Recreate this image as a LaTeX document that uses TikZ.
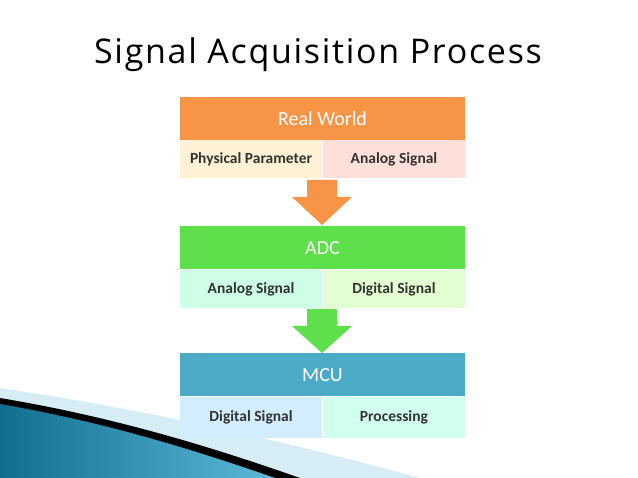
\documentclass[tikz,border=0pt]{standalone}
\usepackage{fontspec}
\setmainfont{Carlito}
\newfontfamily\titlefont[LetterSpace=5]{Open Sans}
\begin{document}
\begin{tikzpicture}[x=1pt,y=-1pt,
  hdr/.style={minimum width=285pt,minimum height=43pt,inner sep=0,text=white,font=\fontsize{20}{24}\selectfont},
  sub/.style={minimum width=142.5pt,minimum height=38pt,inner sep=0,text=black!80,font=\fontsize{15.5}{18}\selectfont\bfseries}]
\definecolor{org}{HTML}{F79446}
\definecolor{grn}{HTML}{5DE04A}
\definecolor{blu}{HTML}{4BABC7}
\definecolor{swA}{HTML}{126E8E}
\definecolor{swB}{HTML}{5CB9DA}
\useasboundingbox (0,0) rectangle (638,478);
\fill[white] (0,0) rectangle (638,478);
% swoosh
\fill[swB!25] (0,388) .. controls (150,410) and (300,445) .. (420,478) -- (300,478) .. controls (200,450) and (100,420) .. (0,398) -- cycle;
\fill[black] (0,398) .. controls (120,418) and (220,450) .. (300,478) -- (272,478) .. controls (190,455) and (100,428) .. (0,408) -- cycle;
\shade[left color=swA, right color=swB] (0,404) .. controls (110,423) and (200,452) .. (275,478) -- (0,478) -- cycle;
% title
\node (title) at (318,55) {\titlefont\fontsize{34}{38}\selectfont Signal Acquisition Process};
% box 1
\node[hdr,fill=org] (rw) at (322.5,118.5) {Real World};
\node[sub,fill=yellow!35!orange!15,anchor=north east] (pp) at (rw.south) {Physical Parameter};
\node[sub,fill=orange!35!red!15,anchor=north west] (as1) at (rw.south) {Analog Signal};
% arrow 1
\fill[org] (307,180) -- (337,180) -- (337,197) -- (352,197) -- (322,225) -- (292,197) -- (307,197) -- cycle;
% box 2
\node[hdr,fill=grn] (adc) at (322.5,248) {ADC};
\node[sub,fill=green!50!cyan!20,anchor=north east] (as2) at (adc.south) {Analog Signal};
\node[sub,fill=green!60!yellow!18,anchor=north west] (ds1) at (adc.south) {Digital Signal};
% arrow 2
\fill[grn] (307,309) -- (337,309) -- (337,326) -- (352,326) -- (322,353) -- (292,326) -- (307,326) -- cycle;
% box 3
\node[hdr,fill=blu] (mcu) at (322.5,375) {MCU};
\node[sub,minimum height=41pt,fill=blue!40!cyan!18,anchor=north east] (ds2) at (mcu.south) {Digital Signal};
\node[sub,minimum height=41pt,fill=green!40!cyan!18,anchor=north west] (pr) at (mcu.south) {Processing};
\end{tikzpicture}
\end{document}
